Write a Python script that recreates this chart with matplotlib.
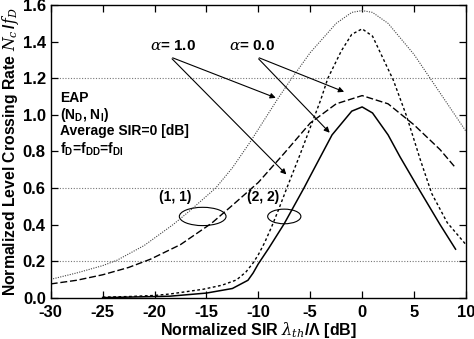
import numpy as np
import matplotlib
matplotlib.use('Agg')
import matplotlib.pyplot as plt
from matplotlib.patches import Ellipse

plt.rcParams['font.family'] = ['Liberation Sans', 'DejaVu Sans']
plt.rcParams['font.weight'] = 'bold'
plt.rcParams['mathtext.fontset'] = 'custom'
plt.rcParams['mathtext.rm'] = 'Liberation Sans:bold'
plt.rcParams['mathtext.bf'] = 'Liberation Sans:bold'
plt.rcParams['mathtext.it'] = 'DejaVu Serif:style=italic:weight=normal'
plt.rcParams['axes.unicode_minus'] = False

# alpha = 1.0, (N_D, N_I) = (1, 1)  -- fine dotted
X_A = [-30, -27.5, -25, -23.6, -21, -18.2, -16.6, -14.1, -12.5, -10.8, -8.1, -6.9, -5, -2.5, -1,
       0, 1, 2.5, 5, 7.5, 10]
Y_A = [0.10, 0.135, 0.175, 0.205, 0.285, 0.40, 0.475, 0.60, 0.71, 0.85, 1.09, 1.19, 1.34, 1.50, 1.56,
       1.57, 1.56, 1.50, 1.33, 1.12, 0.91]

# alpha = 0.0, (1, 1)  -- dashed
X_B = [-30, -27.5, -25, -22.5, -20.4, -17.5, -14.5, -12.5, -10.8, -10, -7.5, -5, -2.5, 0,
       2.5, 5, 7.5, 9]
Y_B = [0.075, 0.095, 0.125, 0.165, 0.21, 0.29, 0.407, 0.505, 0.59, 0.63, 0.79, 0.955, 1.06, 1.105,
       1.06, 0.945, 0.81, 0.71]

# alpha = 1.0, (2, 2)  -- short dashed
X_C = [-25, -22.5, -20, -18.5, -15.3, -13.5, -12.1, -11.2, -10.5, -10, -9.4, -8.7, -8.06, -7.25,
       -6, -5, -4, -3.3, -2, -1, 0, 1, 2, 3, 4.3, 5.6, 6.7, 8.2, 10]
Y_C = [0.003, 0.006, 0.012, 0.02, 0.046, 0.068, 0.097, 0.14, 0.19, 0.235, 0.30, 0.39, 0.48, 0.60,
       0.78, 0.93, 1.08, 1.20, 1.35, 1.44, 1.47, 1.43, 1.31, 1.19, 0.99, 0.755, 0.57, 0.41, 0.29]

# alpha = 0.0, (2, 2)  -- solid
X_D = [-25, -22.5, -20, -18.5, -15, -12.5, -11, -10.5, -10, -9, -7.5, -5.6, -5, -2.9, -1, 0,
       1, 2.5, 3.65, 5.4, 7.5, 9]
Y_D = [0.0, 0.003, 0.006, 0.008, 0.025, 0.05, 0.095, 0.135, 0.185, 0.27, 0.405, 0.60, 0.665, 0.89,
       1.02, 1.043, 1.01, 0.89, 0.77, 0.60, 0.40, 0.265]

GRID_Y = [0.2, 0.6, 1.2]


def main():
    fig = plt.figure(figsize=(4.74, 3.39), dpi=100)
    ax = fig.add_axes([0.107, 0.122, 0.876, 0.863])

    for gy in GRID_Y:
        ax.axhline(gy, color='#777777', lw=0.8, ls=(0, (1, 1.5)), zorder=0)

    ax.plot(X_A, Y_A, color='#444444', lw=0.8, ls=(0, (1, 1.2)))
    ax.plot(X_B, Y_B, color='black', lw=1.0, ls=(0, (5, 2)))
    ax.plot(X_C, Y_C, color='black', lw=1.0, ls=(0, (2, 1.8)))
    ax.plot(X_D, Y_D, color='black', lw=1.1, ls='-')

    ax.set_xlim(-30, 10)
    ax.set_ylim(0, 1.6)
    ax.set_xticks(np.arange(-30, 11, 5))
    ax.set_yticks(np.arange(0, 1.61, 0.2))
    ax.set_yticklabels(['%.1f' % v for v in np.arange(0, 1.61, 0.2)])
    ax.tick_params(direction='in', top=True, right=True, labelsize=12, length=5, width=0.9)
    ax.tick_params(axis='x', pad=5)
    for lab in ax.get_xticklabels() + ax.get_yticklabels():
        lab.set_fontweight('bold')
    for sp in ax.spines.values():
        sp.set_linewidth(1.0)

    ax.set_xlabel(r'Normalized SIR $\lambda_{th}/\Lambda$ [dB]', fontsize=11.5, fontweight='bold', labelpad=0)
    ax.set_ylabel(r'Normalized Level Crossing Rate $N_c\,/f_D$', fontsize=11.3, fontweight='bold', labelpad=1)

    ax.text(-18.2, 1.375, r'$\alpha$= 1.0', fontsize=11, fontweight='bold', ha='center', va='center')
    ax.text(-10.6, 1.375, r'$\alpha$= 0.0', fontsize=11, fontweight='bold', ha='center', va='center')

    arrow = dict(arrowstyle='-|>', color='black', lw=0.8, mutation_scale=8)
    ax.annotate('', xy=(-8.07, 1.087), xytext=(-18.5, 1.317), arrowprops=arrow)
    ax.annotate('', xy=(-7.11, 0.663), xytext=(-18.5, 1.317), arrowprops=arrow)
    ax.annotate('', xy=(-1.49, 1.12), xytext=(-10.16, 1.317), arrowprops=arrow)
    ax.annotate('', xy=(-2.94, 0.891), xytext=(-10.16, 1.317), arrowprops=arrow)

    ax.add_patch(Ellipse((-15.36, 0.444), 4.5, 0.10, fill=False, color='black', lw=0.8))
    ax.add_patch(Ellipse((-7.5, 0.444), 3.2, 0.08, fill=False, color='black', lw=0.8))
    ax.text(-18.0, 0.553, '(1, 1)', fontsize=10, fontweight='bold', ha='center', va='center')
    ax.text(-9.5, 0.553, '(2, 2)', fontsize=10, fontweight='bold', ha='center', va='center')

    info = ['EAP', r'(N$_\mathbf{D}$, N$_\mathbf{I}$)', 'Average SIR=0 [dB]',
            r'f$_\mathbf{D}$=f$_\mathbf{DD}$=f$_\mathbf{DI}$']
    info_y = [1.09, 1.0, 0.91, 0.81]
    for s, yy in zip(info, info_y):
        ax.text(-29.1, yy, s, fontsize=10, fontweight='bold', ha='left', va='center')

    fig.savefig('out.png', dpi=100)


if __name__ == "__main__":
    main()
